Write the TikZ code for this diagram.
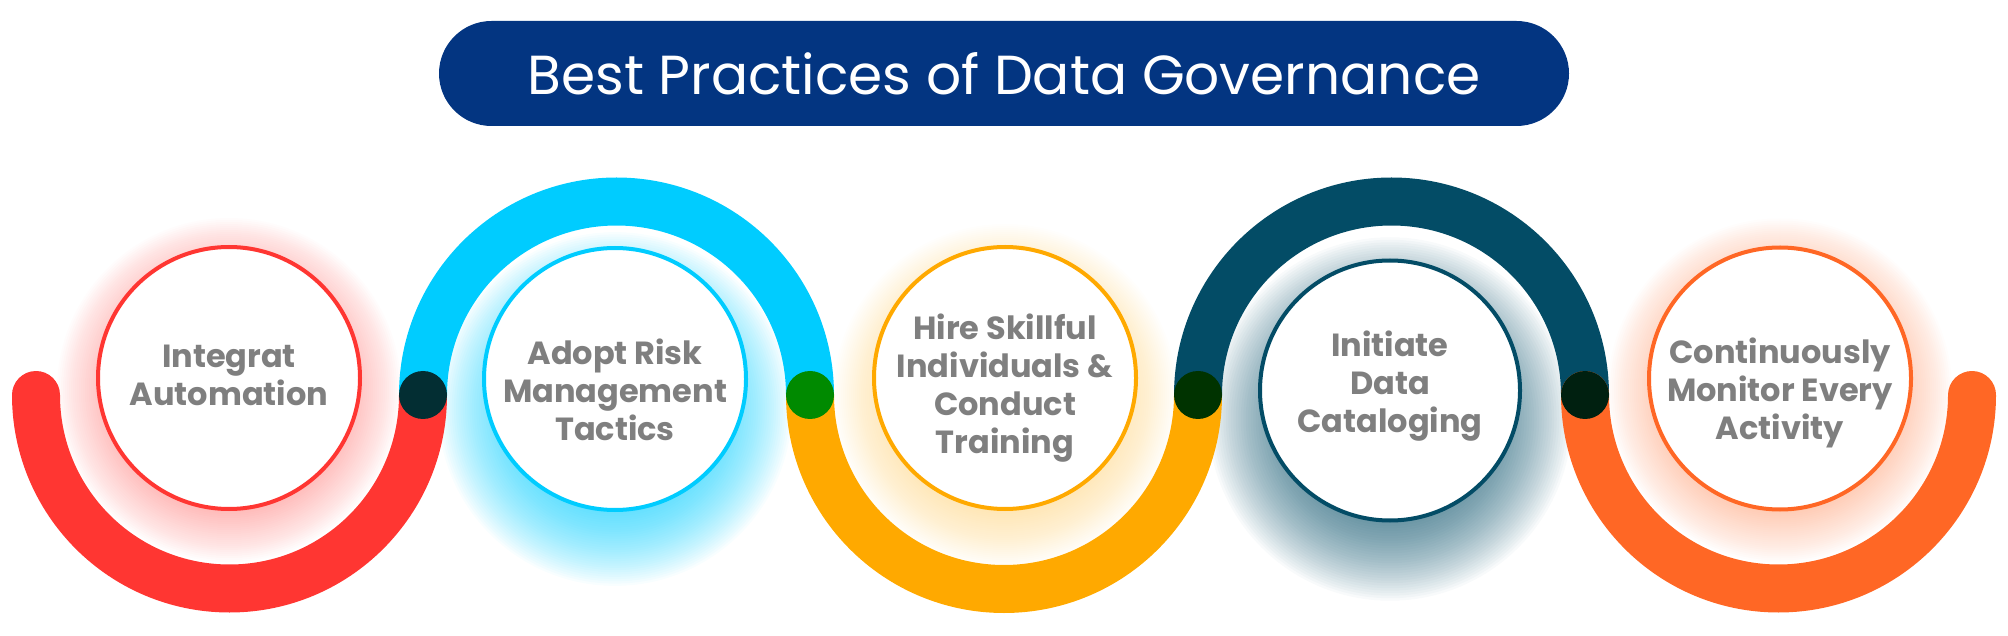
\documentclass[tikz,border=0pt]{standalone}
\usepackage{fontspec}
\setmainfont{Poppins}
\definecolor{cred}{HTML}{FF3632}
\definecolor{cblue}{HTML}{00CCFF}
\definecolor{corange}{HTML}{FFA900}
\definecolor{cteal}{HTML}{034C66}
\definecolor{corred}{HTML}{FF6725}
\definecolor{navy}{HTML}{033581}
\definecolor{txtgray}{HTML}{7F7F7F}
\definecolor{dotA}{HTML}{032E33}
\definecolor{dotB}{HTML}{008A00}
\definecolor{dotC}{HTML}{003300}
\definecolor{dotD}{HTML}{002010}
% soft glow: stack of translucent discs (centre x, centre y, colour, blur, peak opacity)
\newcommand\glowdisk[5]{%
  \pgfmathsetmacro\glowalpha{1-(1-#5)^(1/40)}%
  \foreach \k in {0,...,39}{%
    \fill[#3, fill opacity=\glowalpha] (#1,#2) circle ({133-#4+2*#4*(\k+0.5)/40});}%
}
\begin{document}
\begin{tikzpicture}[x=1pt,y=1pt,
  arcline/.style={line width=48pt},
  bubble/.style={circle, draw, line width=4pt, fill=white, minimum size=262pt, inner sep=0pt},
  lbl/.style={text=txtgray, align=center, font=\fontsize{32}{38}\selectfont\bfseries},
  dotnode/.style={circle, minimum size=48pt, inner sep=0pt}]
\useasboundingbox (0,0) rectangle (2008,635);
% glows
\glowdisk{229}{245}{cred}{40}{0.5}
\glowdisk{615}{226}{cblue}{45}{0.65}
\glowdisk{1005}{239}{corange}{40}{0.42}
\glowdisk{1390}{216}{cteal}{50}{0.68}
\glowdisk{1780}{244.5}{corred}{40}{0.5}
% title
\node[fill=navy, rounded corners=52.5pt, minimum width=1130pt, minimum height=105pt, inner sep=0pt,
  text=white, font=\fontsize{55}{60}\selectfont] (title) at (1004,561.5) {Best Practices of Data Governance};
% endpoints and junctions
\coordinate (e0) at (36,240);
\coordinate (e5) at (1972,240);
\node[dotnode] (d1) at (423,240) {};
\node[dotnode] (d2) at (810,240) {};
\node[dotnode] (d3) at (1198,240) {};
\node[dotnode] (d4) at (1585,240) {};
% arcs
\draw[arcline, cred, line cap=round] (e0) arc[start angle=180, end angle=360, radius=193.5];
\draw[arcline, cblue] (d1.center) arc[start angle=180, end angle=0, radius=193.5];
\draw[arcline, corange] (d2.center) arc[start angle=180, end angle=360, radius=194];
\draw[arcline, cteal] (d3.center) arc[start angle=180, end angle=0, radius=193.5];
\draw[arcline, corred, line cap=round] (d4.center) arc[start angle=180, end angle=360, radius=193.5];
% dots
\fill[dotA] (d1) circle (24);
\fill[dotB] (d2) circle (24);
\fill[dotC] (d3) circle (24);
\fill[dotD] (d4) circle (24);
% bubbles
\node[bubble, draw=cred] (b1) at (229,257) {};
\node[bubble, draw=cblue] (b2) at (615,256) {};
\node[bubble, draw=corange] (b3) at (1005,257) {};
\node[bubble, draw=cteal, minimum size=260pt] (b4) at (1390,244.5) {};
\node[bubble, draw=corred] (b5) at (1780,256.5) {};
% labels
\node[lbl] (t1) at (229,260) {Integrat\\Automation};
\node[lbl] (t2) at (615,245.5) {Adopt Risk\\Management\\Tactics};
\node[lbl] (t3) at (1005,246.5) {Hire Skillful\\Individuals \&\\Conduct\\Training};
\node[lbl] (t4) at (1390,248.5) {Initiate\\Data\\Cataloging};
\node[lbl] (t5) at (1780,242) {Continuously\\Monitor Every\\Activity};
\end{tikzpicture}
\end{document}
